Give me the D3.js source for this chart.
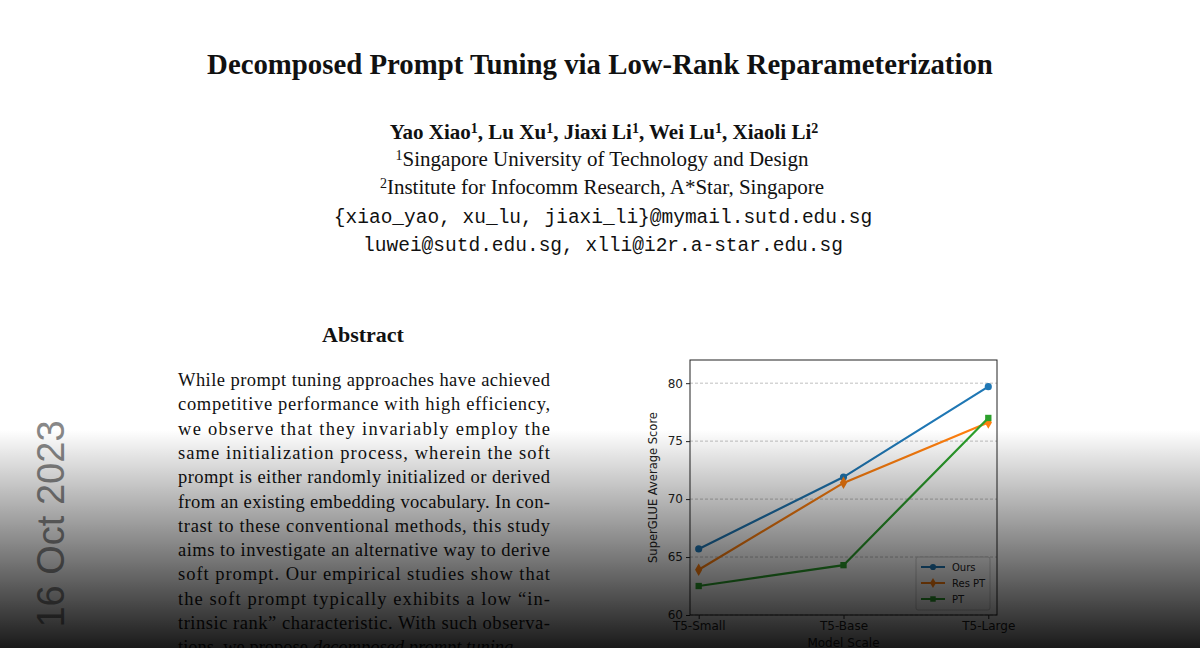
<!DOCTYPE html>
<html><head><meta charset="utf-8">
<script src="https://cdn.jsdelivr.net/npm/d3@7"></script>
<style>body{margin:0;background:#fff}svg{display:block}</style></head>
<body><svg id="s" width="1200" height="648"></svg>
<script>
const categories = ["T5-Small","T5-Base","T5-Large"];
const ours = [65.7, 71.9, 79.7];
const resPT = [63.9, 71.4, 76.6];
const pt = [62.5, 64.3, 77.0];
const yTicks = [60,65,70,75,80];
const series = [
  {name:"Ours", values:ours, color:"#1f77b4", marker:"circle"},
  {name:"Res PT", values:resPT, color:"#ff7f0e", marker:"diamond"},
  {name:"PT", values:pt, color:"#2ca02c", marker:"square"}
];
const abstractLines = [
"While prompt tuning approaches have achieved",
"competitive performance with high efficiency,",
"we observe that they invariably employ the",
"same initialization process, wherein the soft",
"prompt is either randomly initialized or derived",
"from an existing embedding vocabulary. In con-",
"trast to these conventional methods, this study",
"aims to investigate an alternative way to derive",
"soft prompt. Our empirical studies show that",
"the soft prompt typically exhibits a low \u201cin-",
"trinsic rank\u201d characteristic. With such observa-"
];

const svg = d3.select("#s");
const serif = "'Liberation Serif','Times New Roman',serif";
const mono = "'Liberation Mono','DejaVu Sans Mono',monospace";
function t(x,y,txt,size,opt={}){
  return svg.append("text").attr("x",x).attr("y",y).attr("font-family",opt.f||serif)
   .attr("font-size",size).attr("font-weight",opt.w||"normal").attr("text-anchor",opt.a||"middle")
   .attr("fill",opt.c||"#111").text(txt);
}
t(600,74,"Decomposed Prompt Tuning via Low-Rank Reparameterization",28.8,{w:"bold"});
const au = svg.append("text").attr("x",604).attr("y",139).attr("text-anchor","middle")
  .attr("font-family",serif).attr("font-size",21).attr("font-weight","bold").attr("fill","#111");
[["Yao Xiao","1"],["Lu Xu","1"],["Jiaxi Li","1"],["Wei Lu","1"],["Xiaoli Li","2"]].forEach((a,i)=>{
  au.append("tspan").text((i?", ":"")+a[0]);
  au.append("tspan").attr("font-size",14).attr("baseline-shift","40%").text(a[1]);
});
function supLine(y,sup,txt){
  const e = svg.append("text").attr("x",602).attr("y",y).attr("text-anchor","middle")
   .attr("font-family",serif).attr("font-size",21).attr("fill","#111");
  e.append("tspan").attr("font-size",14).attr("baseline-shift","40%").text(sup);
  e.append("tspan").text(txt);
}
supLine(166,"1","Singapore University of Technology and Design");
supLine(194,"2","Institute for Infocomm Research, A*Star, Singapore");
t(603,223,"{xiao_yao, xu_lu, jiaxi_li}@mymail.sutd.edu.sg",19.5,{f:mono});
t(603,251,"luwei@sutd.edu.sg, xlli@i2r.a-star.edu.sg",19.5,{f:mono});
t(363,342,"Abstract",22,{w:"bold"});
abstractLines.forEach((l,i)=>{
  svg.append("text").attr("x",178).attr("y",386+i*24.3).attr("font-family",serif).attr("font-size",18.5)
   .attr("fill","#111").attr("textLength",372).attr("lengthAdjust","spacing").text(l);
});
const last = svg.append("text").attr("x",178).attr("y",386+11*24.3).attr("font-family",serif).attr("font-size",18.5).attr("fill","#111");
last.append("tspan").text("tions, we propose ");
last.append("tspan").attr("font-style","italic").text("decomposed prompt tuning");

svg.append("text").attr("transform","translate(64,524) rotate(-90)").attr("text-anchor","middle")
 .attr("font-family","'Liberation Sans',Arial,sans-serif").attr("font-size",38).attr("fill","#888").text("16 Oct 2023");

const L=690,R=997,T=360,B=615;
const x = d3.scalePoint().domain(categories).range([L,R]).padding(0.06);
const y = d3.scaleLinear().domain([60,82]).range([B,T]);
const g = svg.append("g").attr("font-family","'DejaVu Sans',sans-serif");
g.selectAll(".gl").data(yTicks).join("line").attr("x1",L).attr("x2",R).attr("y1",d=>y(d)).attr("y2",d=>y(d))
 .attr("stroke","#b0b0b0").attr("stroke-dasharray","3,2").attr("stroke-width",0.8);
const ya = g.append("g").attr("transform",`translate(${L},0)`).call(d3.axisLeft(y).tickValues(yTicks).tickSize(4).tickPadding(3));
const xa = g.append("g").attr("transform",`translate(0,${B})`).call(d3.axisBottom(x).tickSize(4).tickPadding(2));
[ya,xa].forEach(a=>{a.select(".domain").remove();a.selectAll("text").attr("font-size",12).attr("fill","#222").attr("font-family","'DejaVu Sans',sans-serif");a.selectAll("line").attr("stroke","#222");});
g.append("rect").attr("x",L).attr("y",T).attr("width",R-L).attr("height",B-T).attr("fill","none").attr("stroke","#222").attr("stroke-width",1);
const line = d3.line().x((d,i)=>x(categories[i])).y(d=>y(d));
const sym = {circle:d3.symbolCircle, diamond:d3.symbolDiamond, square:d3.symbolSquare};
series.forEach(s=>{
  g.append("path").datum(s.values).attr("d",line).attr("fill","none").attr("stroke",s.color).attr("stroke-width",2.2);
  g.selectAll(null).data(s.values).join("path").attr("transform",(d,i)=>`translate(${x(categories[i])},${y(d)})`)
   .attr("d",d3.symbol().type(sym[s.marker]).size(s.marker==="diamond"?45:40)).attr("fill",s.color);
});
g.append("text").attr("transform",`translate(${L-33},${(T+B)/2}) rotate(-90)`).attr("text-anchor","middle")
 .attr("font-size",11.5).attr("fill","#222").text("SuperGLUE Average Score");
g.append("text").attr("x",(L+R)/2).attr("y",B+32).attr("text-anchor","middle").attr("font-size",12).attr("fill","#222").text("Model Scale");
const lg = g.append("g").attr("transform","translate(916,557)");
lg.append("rect").attr("width",74).attr("height",53).attr("fill","#fff").attr("fill-opacity",0.8).attr("stroke","#ccc").attr("rx",2);
series.forEach((s,i)=>{
  const yy=10+i*16;
  lg.append("line").attr("x1",5).attr("x2",29).attr("y1",yy).attr("y2",yy).attr("stroke",s.color).attr("stroke-width",2);
  lg.append("path").attr("transform",`translate(17,${yy})`).attr("d",d3.symbol().type(sym[s.marker]).size(30)).attr("fill",s.color);
  lg.append("text").attr("x",36).attr("y",yy+3.5).attr("font-size",10).attr("fill","#222").text(s.name);
});

const defs = svg.append("defs");
const gr = defs.append("linearGradient").attr("id","fade").attr("x1",0).attr("x2",0).attr("y1",0).attr("y2",1);
gr.append("stop").attr("offset","0%").attr("stop-color","#000").attr("stop-opacity",0);
gr.append("stop").attr("offset","100%").attr("stop-color","#000").attr("stop-opacity",0.9);
svg.append("rect").attr("x",0).attr("y",430).attr("width",1200).attr("height",218).attr("fill","url(#fade)");
</script></body></html>
